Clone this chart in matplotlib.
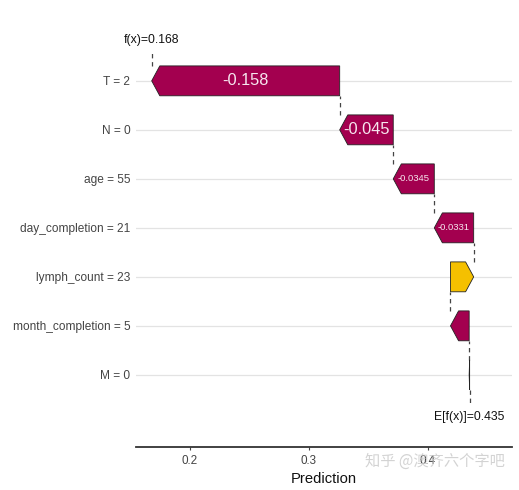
import matplotlib
matplotlib.use("Agg")
import matplotlib.pyplot as plt
from matplotlib.patches import Polygon

plt.rcParams["font.family"] = ["Liberation Sans", "DejaVu Sans"]

# SHAP waterfall data, top row first
features = ["T = 2", "N = 0", "age = 55", "day_completion = 21",
            "lymph_count = 23", "month_completion = 5", "M = 0"]
shap_vals = [-0.158, -0.045, -0.0345, -0.0331, 0.0195, -0.0157, -0.0004]
bar_labels = ["-0.158", "-0.045", "-0.0345", "-0.0331", "", "", ""]
base_value = 0.435
fx_value = 0.168
xticks = [0.2, 0.3, 0.4]

NEG = "#a3004f"; POS = "#f5c000"
H = 0.61          # bar height (rows are 1 apart)
HEAD = 0.0068     # arrow head length in data units

fig = plt.figure(figsize=(5.19, 4.90), dpi=100)
ax = fig.add_axes([0.262, 0.088, 0.7245, 0.867])

n = len(features)
ys = list(range(n, 0, -1))  # top row at n
# cumulative from the bottom (baseline) upwards
ends = [0.0] * n
starts = [0.0] * n
cur = base_value
for i in range(n - 1, -1, -1):
    starts[i] = cur
    cur = cur + shap_vals[i]
    ends[i] = cur

for i in range(n):
    y, s, e, v = ys[i], starts[i], ends[i], shap_vals[i]
    ax.axhline(y, color="#e3e3e3", lw=0.9, zorder=0)
    hl = min(HEAD, abs(v))
    sgn = 1 if v > 0 else -1
    pts = [(s, y + H/2), (e - sgn*hl, y + H/2), (e, y), (e - sgn*hl, y - H/2), (s, y - H/2)]
    ax.add_patch(Polygon(pts, closed=True, fc=POS if v > 0 else NEG, ec="#222222", lw=0.6, zorder=3))
    if bar_labels[i]:
        fs = 11.8 if abs(v) > 0.04 else 6.8
        ax.text((s + e) / 2, y, bar_labels[i], color="#f6e6ee", fontsize=fs,
                ha="center", va="center", zorder=4)

dash = dict(color="#444444", lw=0.9, ls=(0, (3.5, 3)), zorder=2)
# connectors between consecutive rows
for i in range(n - 1):
    ax.plot([ends[i+1], ends[i+1]], [ys[i+1] + H/2, ys[i] - H/2], **dash)
ax.plot([ends[0], ends[0]], [ys[0] + H/2, ys[0] + 0.62], **dash)
ax.plot([base_value, base_value], [ys[-1] - H/2, ys[-1] - 0.62], **dash)
ax.text(ends[0], ys[0] + 0.83, f"f(x)={fx_value:.3f}", fontsize=8.8, ha="center", va="center", color="#111111")
ax.text(base_value, ys[-1] - 0.86, f"E[f(x)]={base_value:.3f}", fontsize=8.8, ha="center", va="center", color="#111111")

ax.set_xlim(0.1546, 0.4706)
ax.set_ylim(-0.47, n + 1.2)
ax.set_yticks(ys)
ax.set_yticklabels(features, fontsize=8.6, color="#444444")
ax.set_xticks(xticks)
ax.set_xticklabels([f"{t:.1f}" for t in xticks], fontsize=8.4, color="#444444")
ax.tick_params(axis="y", length=0, pad=4)
ax.tick_params(axis="x", length=2.5, color="#444444", pad=3)
for side in ["top", "right", "left"]:
    ax.spines[side].set_visible(False)
ax.spines["bottom"].set_color("#333333")
ax.spines["bottom"].set_linewidth(1.3)
ax.set_xlabel("Prediction", fontsize=10.6, color="#111111", labelpad=4)

fig.text(0.703, 0.058, "知乎 @澳齐六个字吧", fontsize=11, color="#cccccc", alpha=0.85,
         family=["Noto Sans CJK SC", "DejaVu Sans"], ha="left", va="center")

fig.savefig("out.png", dpi=100)
